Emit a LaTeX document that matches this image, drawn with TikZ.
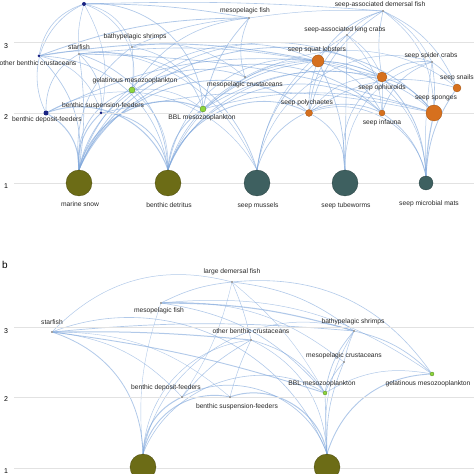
\documentclass[tikz,border=0pt]{standalone}
\usepackage{xcolor}
\usepackage{fontspec}
\setmainfont{Liberation Sans}
\usetikzlibrary{backgrounds}

\definecolor{edgeblue}{RGB}{125,165,218}
\definecolor{snowolive}{RGB}{108,108,22}
\definecolor{seepteal}{RGB}{62,96,96}
\definecolor{seeporange}{RGB}{214,112,30}
\definecolor{zoogreen}{RGB}{140,215,60}
\definecolor{fishblue}{RGB}{25,35,130}
\definecolor{levelgray}{RGB}{226,226,226}

\begin{document}
\begin{tikzpicture}[x=1pt, y=1pt,
    lbl/.style={font=\fontsize{6.7}{7}\selectfont, text=black!85, inner sep=0pt},
    lvlnum/.style={font=\fontsize{7}{8}\selectfont, inner sep=0pt},
    lvl/.style={draw=levelgray, line width=0.6pt},
    flow/.style={draw=edgeblue, draw opacity=0.6},
    blob/.style={circle, inner sep=0pt, minimum size=#1, line width=0.3pt},
    basal/.style={blob=26pt, fill=snowolive, draw=snowolive!70!black},
    seepbase/.style={blob=#1, fill=seepteal, draw=seepteal!70!black},
    seep/.style={blob=#1, fill=seeporange, draw=seeporange!75!black},
    zoo/.style={blob=#1, fill=zoogreen, draw=zoogreen!60!black},
    dot/.style={blob=#1, fill=fishblue},
    tiny/.style={blob=1.8pt, fill=black!70}]
    \useasboundingbox (0,0) rectangle (474,474);

    % 图 a：营养级
    \draw[lvl] (14,432) -- (474,432);
    \draw[lvl] (14,361) -- (474,361);
    \draw[lvl] (14,291) -- (474,291);
    \node[lvlnum] (na3) at (6,428) {3};
    \node[lvlnum] (na2) at (6,357) {2};
    \node[lvlnum] (na1) at (6,288) {1};

    % 基础资源
    \node[basal] (msnow) at (79,291) {};
    \node[basal] (bdet) at (168,291) {};
    \node[seepbase=26pt] (mussels) at (257,291) {};
    \node[seepbase=26pt] (tubew) at (345,291) {};
    \node[seepbase=14pt] (mats) at (426,291) {};
    \node[lbl] (msnowl) at (80,270) {marine snow};
    \node[lbl] (bdetl) at (169,269) {benthic detritus};
    \node[lbl] (musselsl) at (258,268) {seep mussels};
    \node[lbl] (tubewl) at (346,268) {seep tubeworms};
    \node[lbl] (matsl) at (429,270) {seep microbial mats};

    % 消费者
    \node[dot=4pt] (tfish) at (84,470) {};
    \node[tiny] (mesofish) at (249,456) {};
    \node[tiny] (demfish) at (383,463) {};
    \node[tiny] (kingcrab) at (347,439) {};
    \node[tiny] (bathyshr) at (132,427) {};
    \node[tiny] (starfish) at (79,420) {};
    \node[dot=3pt] (othercru) at (39,418) {};
    \node[zoo=6pt] (gelat) at (132,384) {};
    \node[dot=3pt] (suspf) at (101,361) {};
    \node[dot=5pt] (depf) at (46,361) {};
    \node[zoo=6pt] (bbl) at (203,365) {};
    \node[tiny] (mesocru) at (245,397) {};
    \node[seep=12pt] (squat) at (318,413) {};
    \node[tiny] (spider) at (432,412) {};
    \node[seep=10pt] (ophi) at (382,397) {};
    \node[seep=8pt] (snails) at (457,386) {};
    \node[seep=16pt] (sponges) at (434,361) {};
    \node[seep=7pt] (polych) at (309,361) {};
    \node[seep=6pt] (infauna) at (382,361) {};

    \node[lbl] (mesofishl) at (245,463) {mesopelagic fish};
    \node[lbl] (demfishl) at (380,469) {seep-associated demersal fish};
    \node[lbl] (kingcrabl) at (345,444) {seep-associated king crabs};
    \node[lbl] (bathyshrl) at (135,437) {bathypelagic shrimps};
    \node[lbl] (starfishl) at (79,427) {starfish};
    \node[lbl] (othercrul) at (38,411) {other benthic crustaceans};
    \node[lbl] (gelatl) at (135,393) {gelatinous mesozooplankton};
    \node[lbl] (suspfl) at (103,368) {benthic suspension-feeders};
    \node[lbl] (depfl) at (47,354) {benthic deposit-feeders};
    \node[lbl] (bbll) at (202,356) {BBL mesozooplankton};
    \node[lbl] (mesocrul) at (245,389) {mesopelagic crustaceans};
    \node[lbl] (squatl) at (317,424) {seep squat lobsters};
    \node[lbl] (spiderl) at (431,418) {seep spider crabs};
    \node[lbl] (ophil) at (382,386) {seep ophiuroids};
    \node[lbl] (snailsl) at (457,396) {seep snails};
    \node[lbl] (spongesl) at (436,376) {seep sponges};
    \node[lbl] (polychl) at (307,371) {seep polychaetes};
    \node[lbl] (infaunal) at (382,351) {seep infauna};

    % 图 a：取食关系
    \begin{scope}[on background layer]
    \foreach \a/\b/\k/\w in {
        msnow.north/depf/-30/1.0, msnow.north/othercru/-25/0.7,
        msnow.north/starfish/-8/0.6, msnow.north/suspf/25/0.9,
        msnow.north/gelat/40/0.7, msnow.north/bathyshr/30/0.6,
        msnow.north/bbl/50/1.1, msnow.north/mesocru/50/0.7,
        msnow.north/polych/55/0.8, msnow.north/infauna/55/0.7,
        msnow.north/sponges/58/0.8, msnow.north/squat/50/0.6,
        msnow.north/ophi/52/0.6,
        bdet.north/depf/-45/1.0, bdet.north/othercru/-40/0.6,
        bdet.north/starfish/-35/0.7, bdet.north/suspf/-40/0.8,
        bdet.north/bbl/25/0.8, bdet.north/polych/50/0.8,
        bdet.north/infauna/55/0.7, bdet.north/sponges/55/0.6,
        bdet.north/ophi/50/0.6, bdet.north/squat/45/0.6,
        bdet.north/snails/55/0.5, bdet.north/gelat/-25/0.5,
        mussels.north/starfish/-40/0.7, mussels.north/othercru/-40/0.5,
        mussels.north/depf/-45/0.5, mussels.north/squat/20/0.7,
        mussels.north/kingcrab/25/0.5, mussels.north/infauna/50/0.7,
        mussels.north/spider/50/0.5,
        tubew.north/squat/-12/0.7, tubew.north/kingcrab/0/0.6,
        tubew.north/polych/-30/0.6, tubew.north/ophi/30/0.6,
        tubew.north/spider/40/0.5,
        mats.north/sponges/5/1.1, mats.north/snails/15/0.8,
        mats.north/ophi/-20/0.8, mats.north/infauna/-20/0.7,
        mats.north/polych/-50/0.6, mats.north/spider/5/0.5,
        mats.north/squat/-40/0.5,
        depf/tfish/45/0.6, othercru/tfish/30/0.6, starfish/tfish/10/0.5,
        suspf/tfish/-20/0.5, bathyshr/tfish/-30/0.5, gelat/tfish/-40/0.5,
        bbl/tfish/-45/0.7, tfish/mesofish/5/0.7, tfish/demfish/3/0.6,
        othercru/mesofish/10/0.8, othercru/squat/10/0.9,
        starfish/sponges/8/0.7, starfish/ophi/10/0.6,
        depf/starfish/30/0.6, suspf/starfish/-25/0.6, suspf/othercru/-30/0.5,
        mesocru/mesofish/20/0.6, bbl/mesofish/15/0.7, gelat/mesofish/25/0.6,
        bathyshr/mesofish/10/0.6, bbl/bathyshr/-30/0.6, gelat/bathyshr/-5/0.5,
        mesocru/bathyshr/-25/0.5, bbl/gelat/-20/0.5,
        polych/demfish/20/0.6, squat/demfish/20/0.7, ophi/demfish/10/0.6,
        snails/demfish/-20/0.6, spider/demfish/-15/0.5,
        kingcrab/demfish/15/0.5, sponges/demfish/-25/0.5,
        polych/kingcrab/20/0.6, infauna/kingcrab/-20/0.5, ophi/kingcrab/-15/0.5,
        polych/squat/10/0.6, infauna/squat/-20/0.6, ophi/squat/-10/0.5,
        ophi/spider/20/0.7, snails/spider/-10/0.6, sponges/spider/-5/0.6,
        infauna/spider/25/0.6, infauna/ophi/0/0.6, sponges/ophi/-15/0.7,
        polych/ophi/25/0.5, bbl/squat/15/0.7, mesocru/squat/15/0.5,
        bbl/ophi/20/0.6, polych/snails/25/0.6, bbl/sponges/15/0.6,
        depf/squat/15/0.7, suspf/sponges/12/0.6, mesofish/demfish/5/0.5}
        \draw[flow, line width=\w pt] (\a) to[bend left=\k] (\b);
    \end{scope}

    % 图 b
    \node[font=\fontsize{10}{12}\selectfont, inner sep=0pt] (panelb) at (5,209) {b};
    \draw[lvl] (14,147) -- (474,147);
    \draw[lvl] (14,77) -- (474,77);
    \draw[lvl] (14,6) -- (474,6);
    \node[lvlnum] (nb3) at (6,143) {3};
    \node[lvlnum] (nb2) at (6,75) {2};
    \node[lvlnum] (nb1) at (6,3) {1};

    \node[basal] (bsnow) at (143,7) {};
    \node[basal] (bdetr) at (327,7) {};
    \node[tiny] (bldf) at (232,192) {};
    \node[tiny] (bmfish) at (161,171) {};
    \node[tiny] (bstar) at (52,142) {};
    \node[tiny] (bobc) at (251,134) {};
    \node[tiny] (bbshr) at (354,143) {};
    \node[tiny] (bmcru) at (344,112) {};
    \node[zoo=4pt] (bbbl) at (325,81) {};
    \node[zoo=4pt] (bgel) at (432,100) {};
    \node[tiny] (bdepf) at (182,77) {};
    \node[tiny] (bsusp) at (230,77) {};

    \node[lbl] (bldfl) at (232,202) {large demersal fish};
    \node[lbl] (bmfishl) at (159,163) {mesopelagic fish};
    \node[lbl] (bstarl) at (52,152) {starfish};
    \node[lbl] (bobcl) at (251,143) {other benthic crustaceans};
    \node[lbl] (bbshrl) at (353,152) {bathypelagic shrimps};
    \node[lbl] (bmcrul) at (344,118) {mesopelagic crustaceans};
    \node[lbl] (bbbll) at (322,90) {BBL mesozooplankton};
    \node[lbl] (bgell) at (428,90) {gelatinous mesozooplankton};
    \node[lbl] (bdepfl) at (166,86) {benthic deposit-feeders};
    \node[lbl] (bsuspl) at (237,67) {benthic suspension-feeders};

    \begin{scope}[on background layer]
    \foreach \a/\b/\k/\w in {
        bsnow.north/bdepf/30/1.0, bsnow.north/bsusp/45/0.9,
        bsnow.north/bstar/-35/0.8, bsnow.north/bobc/40/0.5,
        bsnow.north/bmfish/12/0.4, bsnow.north/bbbl/50/0.6,
        bsnow.north/bbshr/50/0.5,
        bdetr.north/bbbl/0/0.6, bdetr.north/bgel/35/0.9,
        bdetr.north/bmcru/12/0.6, bdetr.north/bbshr/18/0.5,
        bdetr.north/bsusp/-50/1.0, bdetr.north/bdepf/-50/0.7,
        bdetr.north/bobc/-30/0.5, bdetr.north/bstar/-45/0.6,
        bstar/bldf/30/0.5, bgel/bldf/-30/0.6, bobc/bldf/-5/0.5,
        bmfish/bldf/10/0.6, bbshr/bldf/-15/0.6, bdepf/bldf/-10/0.4,
        bbbl/bldf/-10/0.4,
        bstar/bobc/3/1.0, bstar/bbbl/5/0.9, bstar/bbshr/5/0.7,
        bdepf/bstar/-20/0.5, bsusp/bstar/-20/0.4,
        bdepf/bobc/10/0.6, bsusp/bobc/5/0.5,
        bmfish/bbshr/8/1.1, bmcru/bmfish/-20/0.5, bbbl/bmfish/-20/0.6,
        bgel/bmfish/-20/0.5, bbbl/bbshr/15/0.7, bmcru/bbshr/5/0.5,
        bgel/bbshr/-15/0.7, bbbl/bmcru/10/0.6, bbbl/bobc/-20/0.6,
        bbbl/bgel/20/0.5}
        \draw[flow, line width=\w pt] (\a) to[bend left=\k] (\b);
    \end{scope}
\end{tikzpicture}
\end{document}
